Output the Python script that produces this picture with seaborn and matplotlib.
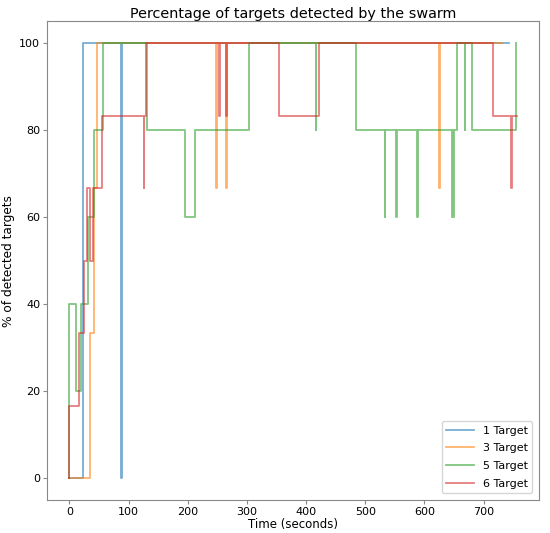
import matplotlib
matplotlib.use("Agg")
import matplotlib.pyplot as plt
import numpy as np
import pandas as pd
import seaborn as sns


# time (s) of each change and the detection percentage from that moment on
t_1 = [0, 0, 22.5, 86.5, 89.5, 743]
v_1 = [0, 0, 100, 0, 100, 100]

t_3 = [0, 0, 35.5, 41, 47, 248, 249, 265, 266, 625, 626, 732]
v_3 = [0, 0, 33.3, 66.7, 100, 66.7, 100, 66.7, 100, 66.7, 100, 100]

t_5 = [0, 0, 12, 20, 31, 41, 57, 131, 196, 211.5, 304, 416.5, 417.5, 484,
       533, 534, 552.5, 553.5, 587.5, 588.5, 647, 648, 649, 650, 656,
       668, 669, 681, 755]
v_5 = [0, 40, 20, 40, 60, 80, 100, 80, 60, 80, 100, 80, 100, 80,
       60, 80, 60, 80, 60, 80, 60, 80, 60, 80, 100,
       80, 100, 80, 100]

t_6 = [0, 0, 17, 24, 29, 35.5, 39.5, 55, 125.5, 126.5, 130, 253, 254,
       265.5, 266.5, 353.5, 422, 716, 747, 748, 756]
v_6 = [0, 16.7, 33.3, 50, 66.7, 50, 66.7, 83.3, 66.7, 83.3, 100, 83.3, 100,
       83.3, 100, 83.3, 100, 83.3, 66.7, 83.3, 83.3]

series_names = ["1 Target", "3 Target", "5 Target", "6 Target"]
series_colors = ["#1f77b4", "#ff7f0e", "#2ca02c", "#d62728"]

frames = []
for name, t, v in zip(series_names, [t_1, t_3, t_5, t_6], [v_1, v_3, v_5, v_6]):
    frames.append(pd.DataFrame({"time": t, "pct": v, "swarm": name}))
df = pd.concat(frames, ignore_index=True)

fig = plt.figure(figsize=(5.5, 5.33), dpi=100)
ax = fig.add_axes([0.0855, 0.0619, 0.8945, 0.8978])

sns.lineplot(
    data=df,
    x="time",
    y="pct",
    hue="swarm",
    hue_order=series_names,
    palette=series_colors,
    estimator=None,
    sort=False,
    drawstyle="steps-post",
    linewidth=1.3,
    alpha=0.6,
    ax=ax,
)

ax.set_title("Percentage of targets detected by the swarm", fontsize=10.4, pad=1.5)
ax.set_xlabel("Time (seconds)", fontsize=8.5, labelpad=0.5)
ax.set_ylabel("% of detected targets", fontsize=8.7, labelpad=3)
ax.set_xticks(np.arange(0, 701, 100))
ax.set_yticks(np.arange(0, 101, 20))
ax.tick_params(labelsize=8, color="#888888", length=3, pad=2)
for sp in ax.spines.values():
    sp.set_color("#888888")
sns.move_legend(ax, "lower right", title=None, fontsize=8, frameon=True,
                handlelength=2.5, labelspacing=0.7, borderaxespad=0.6)

fig.savefig("out.png", dpi=100, facecolor="white")
